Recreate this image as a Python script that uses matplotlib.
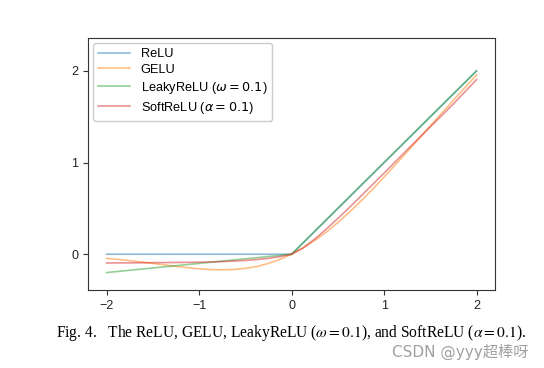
import numpy as np
import matplotlib
matplotlib.use("Agg")
import matplotlib.pyplot as plt

# values
x_lin = [-2, 0, 2]
relu = [0, 0, 2]
leaky = [-0.2, 0, 2]

x_gelu = [-2, -1.875, -1.75, -1.625, -1.5, -1.375, -1.25, -1.125, -1,
          -0.875, -0.75, -0.625, -0.5, -0.375, -0.25, -0.125, 0,
          0.125, 0.25, 0.375, 0.5, 0.625, 0.75, 0.875, 1,
          1.125, 1.25, 1.375, 1.5, 1.625, 1.75, 1.875, 2]
gelu = [-0.046, -0.057, -0.070, -0.085, -0.100, -0.116, -0.132, -0.146, -0.159,
        -0.167, -0.170, -0.166, -0.154, -0.134, -0.100, -0.056, 0,
        0.069, 0.150, 0.241, 0.346, 0.459, 0.580, 0.708, 0.841,
        0.979, 1.118, 1.259, 1.400, 1.541, 1.680, 1.818, 1.955]

x_soft = [-2, -1.75, -1.5, -1.25, -1, -0.875, -0.75, -0.625, -0.5,
          -0.375, -0.25, -0.125, 0, 0.125, 0.25, 0.375, 0.5, 0.625,
          0.75, 0.875, 1, 1.25, 1.5, 1.75, 2]
soft = [-0.095, -0.094, -0.092, -0.090, -0.087, -0.084, -0.080, -0.075, -0.068,
        -0.058, -0.045, -0.026, 0, 0.07, 0.165, 0.275, 0.39, 0.51,
        0.635, 0.76, 0.885, 1.14, 1.39, 1.64, 1.905]

labels = ["ReLU", "GELU", r"LeakyReLU ($\omega = 0.1$)", r"SoftReLU ($\alpha = 0.1$)"]

plt.rcParams["font.family"] = ["Liberation Sans", "DejaVu Sans"]

fig = plt.figure(figsize=(5.44, 3.68), dpi=100)
ax = fig.add_axes([0.162, 0.212, 0.748, 0.685])

ax.plot(x_lin, relu, color="tab:blue", alpha=0.5, lw=1.2, label=labels[0])
ax.plot(x_gelu, gelu, color="tab:orange", alpha=0.5, lw=1.2, label=labels[1])
ax.plot(x_lin, leaky, color="tab:green", alpha=0.5, lw=1.2, label=labels[2])
ax.plot(x_soft, soft, color="tab:red", alpha=0.5, lw=1.2, label=labels[3])

ax.set_xlim(-2.2, 2.2)
ax.set_ylim(-0.39, 2.36)
ax.set_xticks([-2, -1, 0, 1, 2])
ax.set_yticks([0, 1, 2])
ax.tick_params(labelsize=9, length=3.5, color="#333333", labelcolor="#222222")
for s in ax.spines.values():
    s.set_color("#333333")
    s.set_linewidth(0.8)

ax.legend(loc="upper left", fontsize=9.2, handlelength=2.5, framealpha=1,
          borderaxespad=0.4, labelspacing=0.3)

fig.text(0.535, 0.095,
         r"Fig. 4.   The ReLU, GELU, LeakyReLU ($\omega = 0.1$), and SoftReLU ($\alpha = 0.1$).",
         ha="center", va="center", family="Liberation Serif", fontsize=11.2,
         math_fontfamily="stix")
fig.text(0.972, 0.043, "CSDN @yyy超棒呀", ha="right", va="center",
         family=["DejaVu Sans", "Noto Sans CJK SC"], fontsize=11, color="#a0a0a0")

fig.savefig("out.png", dpi=100)
